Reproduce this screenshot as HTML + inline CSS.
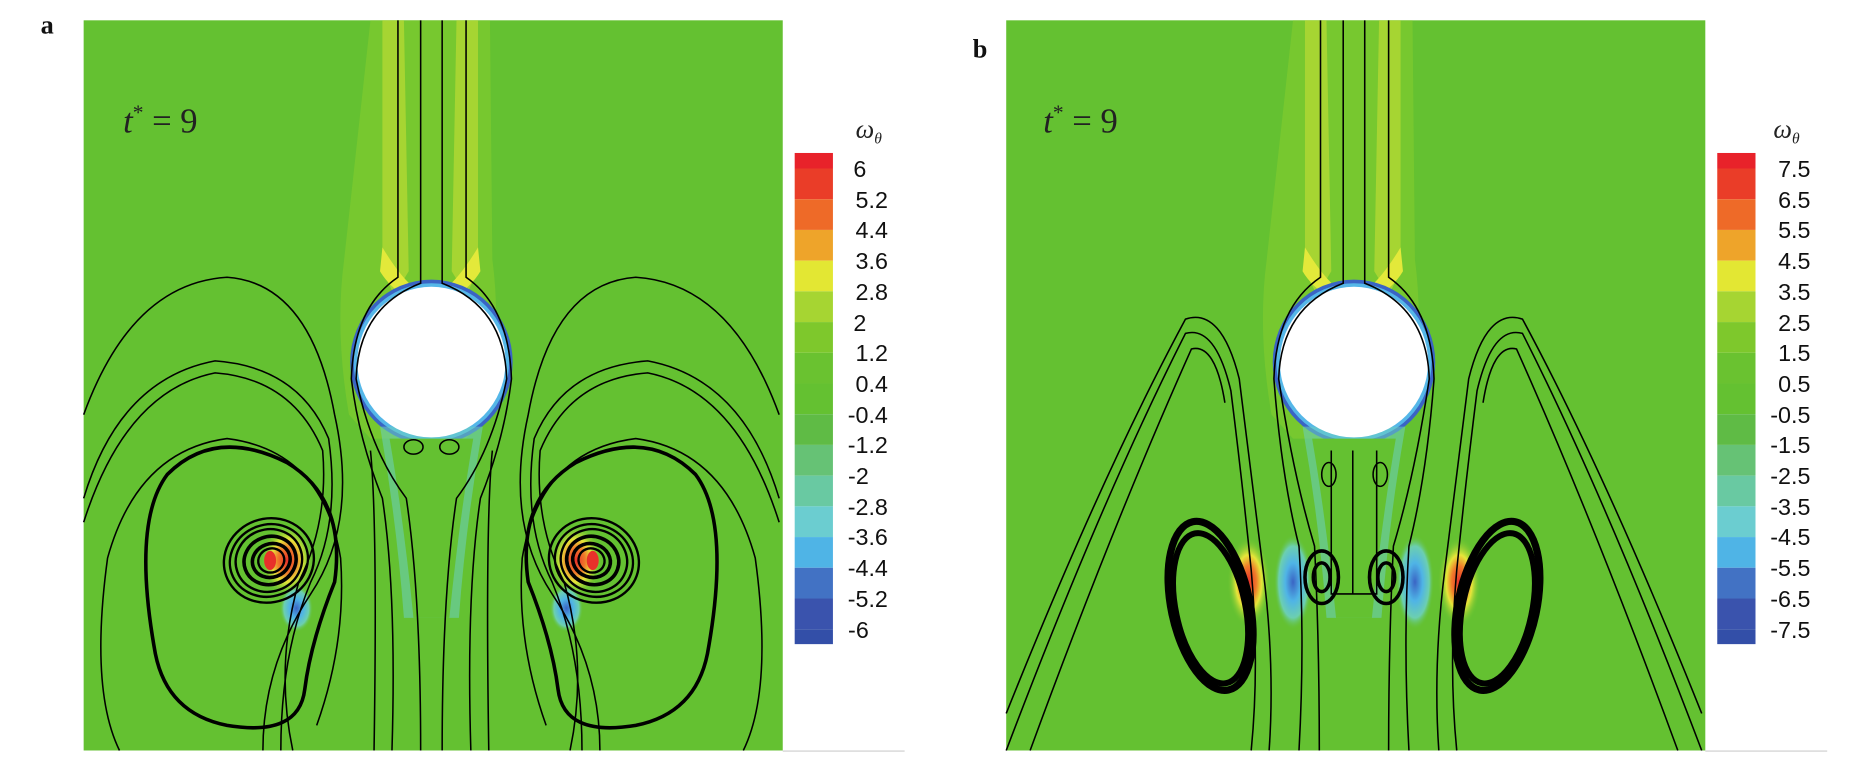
<!DOCTYPE html>
<html><head><meta charset="utf-8"><style>
html,body{margin:0;padding:0;background:#fff;width:1875px;height:772px;overflow:hidden}
svg{display:block}
</style></head><body>
<svg width="1875" height="772" viewBox="0 0 1569 646" preserveAspectRatio="none" xmlns="http://www.w3.org/2000/svg">
<defs>
<radialGradient id="rA" cx="0.5" cy="0.5" r="0.5">
<stop offset="0" stop-color="#e8302a"/><stop offset="0.35" stop-color="#f07a2a"/><stop offset="0.6" stop-color="#e6e63a"/><stop offset="1" stop-color="#64c131" stop-opacity="0"/></radialGradient>
<radialGradient id="bA" cx="0.5" cy="0.5" r="0.5">
<stop offset="0" stop-color="#3a64c4"/><stop offset="0.4" stop-color="#4fb4e6"/><stop offset="0.75" stop-color="#6ccfb0"/><stop offset="1" stop-color="#64c131" stop-opacity="0"/></radialGradient>
<g id="fieldA">
<rect x="0" y="0" width="585" height="611" fill="#64c131"/>
<path d="M240,0 L340,0 L342,200 Q350,260 338,330 L320,350 L240,350 L222,330 Q210,260 218,200 Z" fill="#7cc92f" opacity="0.8"/>
<path d="M250,0 L268,0 L272,210 L260,230 L250,210Z M312,0 L330,0 L330,210 L320,230 L308,210Z" fill="#a6d532"/>
<path d="M250,190 Q265,215 278,225 L270,232 Q255,222 248,210Z M330,190 Q315,215 302,225 L310,232 Q325,222 332,210Z" fill="#e3e93a"/>
<ellipse cx="291" cy="286" rx="68" ry="69" fill="#3a64c4"/>
<ellipse cx="291" cy="286" rx="65" ry="66" fill="#55b7e8"/>
<path d="M248,340 Q262,420 268,500 L314,500 Q320,420 334,340 Z" fill="#6ccfbf" opacity="0.55"/>
<path d="M256,350 Q268,420 276,500 L306,500 Q314,420 326,350Z" fill="#64c131"/>
</g>
</defs>

<!-- Panel a -->
<g transform="translate(70,17)">
<use href="#fieldA"/>
<ellipse cx="170" cy="452" rx="22" ry="30" fill="url(#rA)"/>
<ellipse cx="412" cy="452" rx="22" ry="30" fill="url(#rA)"/>
<ellipse cx="178" cy="492" rx="14" ry="20" fill="url(#bA)"/>
<ellipse cx="404" cy="492" rx="14" ry="20" fill="url(#bA)"/>
<ellipse cx="291" cy="286" rx="62" ry="63" fill="#fff"/>
<g fill="none" stroke="#000" stroke-width="1.3">
<path d="M263,0 L263,215 Q226,240 224,300 Q230,350 250,400 Q262,480 258,611"/>
<path d="M282,0 L282,220 Q230,240 228,300 Q240,360 270,400 Q282,480 282,611"/>
<path d="M300,0 L300,220 Q352,240 354,300 Q342,360 312,400 Q300,480 300,611"/>
<path d="M320,0 L320,215 Q356,240 358,300 Q352,350 332,400 Q320,480 324,611"/>
<path d="M240,360 Q246,420 243,611 M342,360 Q336,420 339,611"/>
<ellipse cx="276" cy="357" rx="8" ry="6"/><ellipse cx="306" cy="357" rx="8" ry="6"/>
<g id="lsA">
<path d="M0,330 Q40,220 120,215 Q190,220 210,330 Q230,420 190,480 Q150,540 150,611"/>
<path d="M0,400 Q30,300 110,285 Q180,290 205,350 Q215,420 190,470 Q165,530 165,611"/>
<path d="M0,420 Q35,310 110,295 Q175,300 200,360 Q205,420 180,470 Q160,540 175,611"/>
<path d="M60,530 Q40,420 70,380 Q110,340 170,370 Q220,400 210,470 Q190,520 185,560 Q180,600 120,590 Q70,580 60,530Z" stroke-width="3"/>
<path d="M30,611 Q5,560 20,450 Q45,360 120,350 Q200,360 215,450 Q220,520 195,590"/>
<ellipse cx="155" cy="452" rx="38" ry="35" transform="rotate(-20 155 452)" stroke-width="2"/>
<ellipse cx="155" cy="452" rx="33" ry="30" transform="rotate(-20 155 452)" stroke-width="2"/>
<ellipse cx="155" cy="452" rx="28" ry="26" transform="rotate(-20 155 452)" stroke-width="2"/>
<ellipse cx="156" cy="452" rx="22" ry="20" transform="rotate(-20 156 452)" stroke-width="3"/>
<ellipse cx="157" cy="452" rx="16" ry="14" transform="rotate(-20 157 452)" stroke-width="3"/>
<ellipse cx="157" cy="452" rx="11" ry="10" transform="rotate(-20 157 452)" stroke-width="2"/>
</g>
<use href="#lsA" transform="translate(582,0) scale(-1,1)"/>
</g>
<ellipse cx="156" cy="452" rx="5" ry="8" fill="#e8302a"/>
<ellipse cx="426" cy="452" rx="5" ry="8" fill="#e8302a"/>
</g>

<!-- Panel b -->
<g transform="translate(842,17)">
<use href="#fieldA"/>
<ellipse cx="203" cy="470" rx="18" ry="38" fill="url(#rA)"/>
<ellipse cx="379" cy="470" rx="18" ry="38" fill="url(#rA)"/>
<ellipse cx="240" cy="470" rx="16" ry="40" fill="url(#bA)"/>
<ellipse cx="342" cy="470" rx="16" ry="40" fill="url(#bA)"/>
<ellipse cx="291" cy="286" rx="62" ry="63" fill="#fff"/>
<g fill="none" stroke="#000" stroke-width="1.3">
<path d="M263,0 L263,215 Q226,240 224,300 Q230,380 245,440 Q250,520 245,611"/>
<path d="M282,0 L282,220 Q230,240 228,300 Q240,380 258,440 Q262,520 262,611"/>
<path d="M300,0 L300,220 Q352,240 354,300 Q342,380 324,440 Q320,520 320,611"/>
<path d="M320,0 L320,215 Q356,240 358,300 Q352,380 337,440 Q332,520 337,611"/>
<path d="M272,360 L272,480 L290,480 L290,360 M310,360 L310,480 L290,480"/>
<ellipse cx="270" cy="380" rx="6" ry="10"/><ellipse cx="313" cy="380" rx="6" ry="10"/>
<g id="lsB">
<path d="M0,580 Q80,380 150,250 Q180,240 195,300 Q205,380 215,460 Q225,540 220,611"/>
<path d="M0,611 Q80,400 150,262 Q175,255 188,310 Q198,390 205,460 Q212,540 205,611"/>
<path d="M20,611 Q90,420 155,275 Q175,270 183,320"/>
<ellipse cx="171" cy="490" rx="33" ry="72" transform="rotate(-12 171 490)" stroke-width="6"/>
<ellipse cx="171" cy="492" rx="29" ry="64" transform="rotate(-12 171 492)" stroke-width="5"/>
<ellipse cx="264" cy="466" rx="14" ry="22" stroke-width="3"/>
<ellipse cx="264" cy="466" rx="7" ry="12" stroke-width="3"/>
</g>
<use href="#lsB" transform="translate(582,0) scale(-1,1)"/>
</g>
</g>

<!-- colorbars -->
<g id="cbar" transform="translate(665,0)">
<rect x="0" y="128" width="32" height="13" fill="#e8222a"/>
<rect x="0" y="141" width="32" height="25.7" fill="#ea3d28"/>
<rect x="0" y="166.7" width="32" height="25.7" fill="#ee6a28"/>
<rect x="0" y="192.4" width="32" height="25.7" fill="#eea42a"/>
<rect x="0" y="218.1" width="32" height="25.7" fill="#e3e733"/>
<rect x="0" y="243.8" width="32" height="25.7" fill="#a6d532"/>
<rect x="0" y="269.5" width="32" height="25.7" fill="#7ec82c"/>
<rect x="0" y="295.2" width="32" height="25.7" fill="#6ac230"/>
<rect x="0" y="320.9" width="32" height="25.7" fill="#64c131"/>
<rect x="0" y="346.6" width="32" height="25.7" fill="#5fbb45"/>
<rect x="0" y="372.3" width="32" height="25.7" fill="#66c275"/>
<rect x="0" y="398" width="32" height="25.7" fill="#69c9a2"/>
<rect x="0" y="423.7" width="32" height="25.7" fill="#6bcdd0"/>
<rect x="0" y="449.4" width="32" height="25.7" fill="#4fb4e6"/>
<rect x="0" y="475.1" width="32" height="25.7" fill="#4272c4"/>
<rect x="0" y="500.8" width="32" height="25.7" fill="#3a53ad"/>
<rect x="0" y="526.5" width="32" height="12.5" fill="#334fa8"/>
</g>
<use href="#cbar" transform="translate(772,0)"/>
<g font-family="Liberation Sans, sans-serif" font-size="19.5" fill="#111">
<g text-anchor="end">
<text x="725" y="148">6</text><text x="743" y="174">5.2</text><text x="743" y="199">4.4</text><text x="743" y="225">3.6</text><text x="743" y="251">2.8</text><text x="725" y="277">2</text><text x="743" y="302">1.2</text><text x="743" y="328">0.4</text><text x="743" y="354">-0.4</text><text x="743" y="379">-1.2</text><text x="727" y="405">-2</text><text x="743" y="431">-2.8</text><text x="743" y="456">-3.6</text><text x="743" y="482">-4.4</text><text x="743" y="508">-5.2</text><text x="727" y="534">-6</text>
<text x="1515" y="148">7.5</text><text x="1515" y="174">6.5</text><text x="1515" y="199">5.5</text><text x="1515" y="225">4.5</text><text x="1515" y="251">3.5</text><text x="1515" y="277">2.5</text><text x="1515" y="302">1.5</text><text x="1515" y="328">0.5</text><text x="1515" y="354">-0.5</text><text x="1515" y="379">-1.5</text><text x="1515" y="405">-2.5</text><text x="1515" y="431">-3.5</text><text x="1515" y="456">-4.5</text><text x="1515" y="482">-5.5</text><text x="1515" y="508">-6.5</text><text x="1515" y="534">-7.5</text>
</g>
</g>
<g font-family="Liberation Serif, serif" font-style="italic" fill="#222">
<text x="716" y="115" font-size="22">ω<tspan font-size="13" dy="5">θ</tspan></text>
<text x="1484" y="115" font-size="22">ω<tspan font-size="13" dy="5">θ</tspan></text>
<text x="103" y="111" font-size="29">t<tspan font-style="normal" font-size="18" dy="-11">*</tspan><tspan font-style="normal" dy="11"> = 9</tspan></text>
<text x="873" y="111" font-size="29">t<tspan font-style="normal" font-size="18" dy="-11">*</tspan><tspan font-style="normal" dy="11"> = 9</tspan></text>
</g>
<g font-family="Liberation Serif, serif" font-weight="bold" font-size="22" fill="#111">
<text x="34" y="28">a</text><text x="814" y="48">b</text>
</g>
<line x1="655" y1="628.5" x2="757" y2="628.5" stroke="#ccc" stroke-width="1"/>
<line x1="1427" y1="628.5" x2="1529" y2="628.5" stroke="#ccc" stroke-width="1"/>
</svg>
</body></html>
